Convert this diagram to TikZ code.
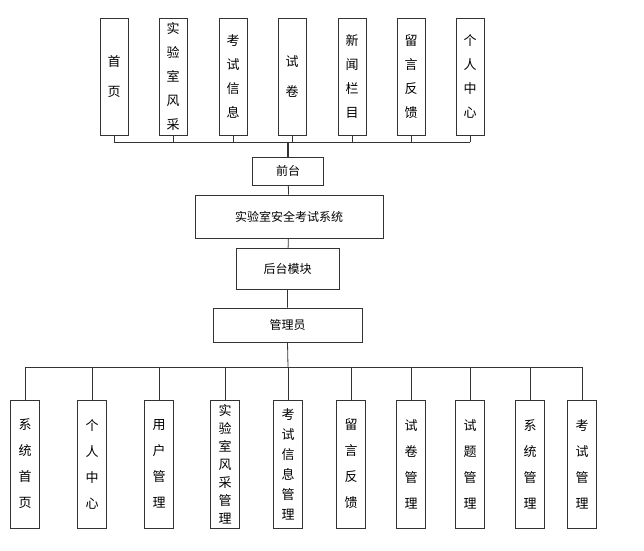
\documentclass[tikz,border=0pt]{standalone}
\usepackage{fontspec}
\newfontfamily\cjk{Noto Sans CJK SC}
\begin{document}
\begin{tikzpicture}[x=1pt,y=-1pt,
  box/.style={draw=black!80,fill=white,line width=0.8pt,inner sep=0pt,font=\cjk\fontsize{12}{14}\selectfont},
  vbox/.style={box,minimum width=28pt,align=center},
  ln/.style={draw=black!80,line width=0.8pt}]
\useasboundingbox (0,0) rectangle (644,550);
% top
\foreach \n/\x/\t/\s in {t1/114/首\\页/30, t2/173/实\\验\\室\\风\\采/24, t3/233/考\\试\\信\\息/24, t4/292/试\\卷/30, t5/352/新\\闻\\栏\\目/24, t6/411/留\\言\\反\\馈/24, t7/470/个\\人\\中\\心/24}{
  \node[vbox,minimum height=117pt,font=\cjk\fontsize{13}{\s}\selectfont] (\n) at (\x,76.5) {\t};
  \draw[ln] (\n.south) -- (\x,142);
}
\draw[ln] (114,142) -- (470,142);
\node[box,minimum width=71pt,minimum height=28pt] (qt) at (288,171) {前台};
\draw[ln,line width=1.5pt] (288,142) -- (qt.north);
\node[box,minimum width=188pt,minimum height=43pt] (sys) at (289,216.5) {实验室安全考试系统};
\node[box,minimum width=103pt,minimum height=41pt] (ht) at (287.5,268.5) {后台模块};
\node[box,minimum width=149pt,minimum height=34pt] (gl) at (287.5,325) {管理员};
\draw[ln] (qt) -- (sys) (sys) -- (ht) (ht) -- (gl);
\coordinate (bus) at (288,367);
\draw[ln] (gl.south) -- (bus);
\draw[ln] (25,367) -- (582,367);
\foreach \n/\x/\t/\s in {b1/25/系\\统\\首\\页/26, b2/92/个\\人\\中\\心/26, b3/159/用\\户\\管\\理/26, b4/225/实\\验\\室\\风\\采\\管\\理/18, b5/288/考\\试\\信\\息\\管\\理/20, b6/351/留\\言\\反\\馈/26, b7/411/试\\卷\\管\\理/26, b8/470/试\\题\\管\\理/26, b9/530/系\\统\\管\\理/26, b10/582/考\\试\\管\\理/26}{
  \node[vbox,minimum height=128pt,minimum width=29pt,font=\cjk\fontsize{13}{\s}\selectfont] (\n) at (\x,464) {\t};
  \draw[ln] (\x,367) -- (\n.north);
}
\end{tikzpicture}
\end{document}
